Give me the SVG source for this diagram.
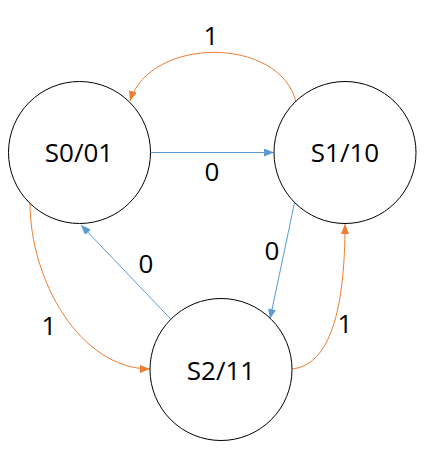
<svg xmlns="http://www.w3.org/2000/svg" width="427" height="453" viewBox="0 0 427 453">
<defs>
<style>
.node circle{fill:#fff;stroke:#000;stroke-width:1}
text{font-family:"Open Sans","Liberation Sans",sans-serif;font-size:26px;fill:#000;text-anchor:middle}
.blue{fill:none;stroke:#5B9BD5;stroke-width:1}
.orange{fill:none;stroke:#ED7D31;stroke-width:1}
</style>
<marker id="ab" markerUnits="userSpaceOnUse" markerWidth="11" markerHeight="8" refX="10" refY="4" orient="auto"><path d="M0,0 L10,4 L0,8 z" fill="#5B9BD5"/></marker>
<marker id="ao" markerUnits="userSpaceOnUse" markerWidth="11" markerHeight="8" refX="10" refY="4" orient="auto"><path d="M0,0 L10,4 L0,8 z" fill="#ED7D31"/></marker>
</defs>
<rect width="427" height="453" fill="#fff"/>
<g id="connectors">
<path class="blue" d="M151,152.5 L274,152.5" marker-end="url(#ab)"/>
<path class="orange" d="M296,102 C280,36 150,36 130,101" marker-end="url(#ao)"/>
<path class="orange" d="M30,203 C30,280 80,369 150,369" marker-end="url(#ao)"/>
<path class="orange" d="M292,369 C330,365 345,310 345,224" marker-end="url(#ao)"/>
<path class="blue" d="M294.7,202 L270,319" marker-end="url(#ab)"/>
<path class="blue" d="M170.7,319 L81,225" marker-end="url(#ab)"/>
<text x="211" y="45">1</text>
<text x="212" y="181">0</text>
<text x="146" y="273">0</text>
<text x="272" y="260">0</text>
<text x="49" y="335">1</text>
<text x="345" y="333">1</text>
</g>
<g id="S0" class="node"><circle cx="79.5" cy="152.5" r="71"/><text x="79" y="162">S0/01</text></g>
<g id="S1" class="node"><circle cx="345" cy="152.5" r="71"/><text x="345" y="162">S1/10</text></g>
<g id="S2" class="node"><circle cx="221" cy="369.5" r="71"/><text x="221" y="380">S2/11</text></g>
</svg>
